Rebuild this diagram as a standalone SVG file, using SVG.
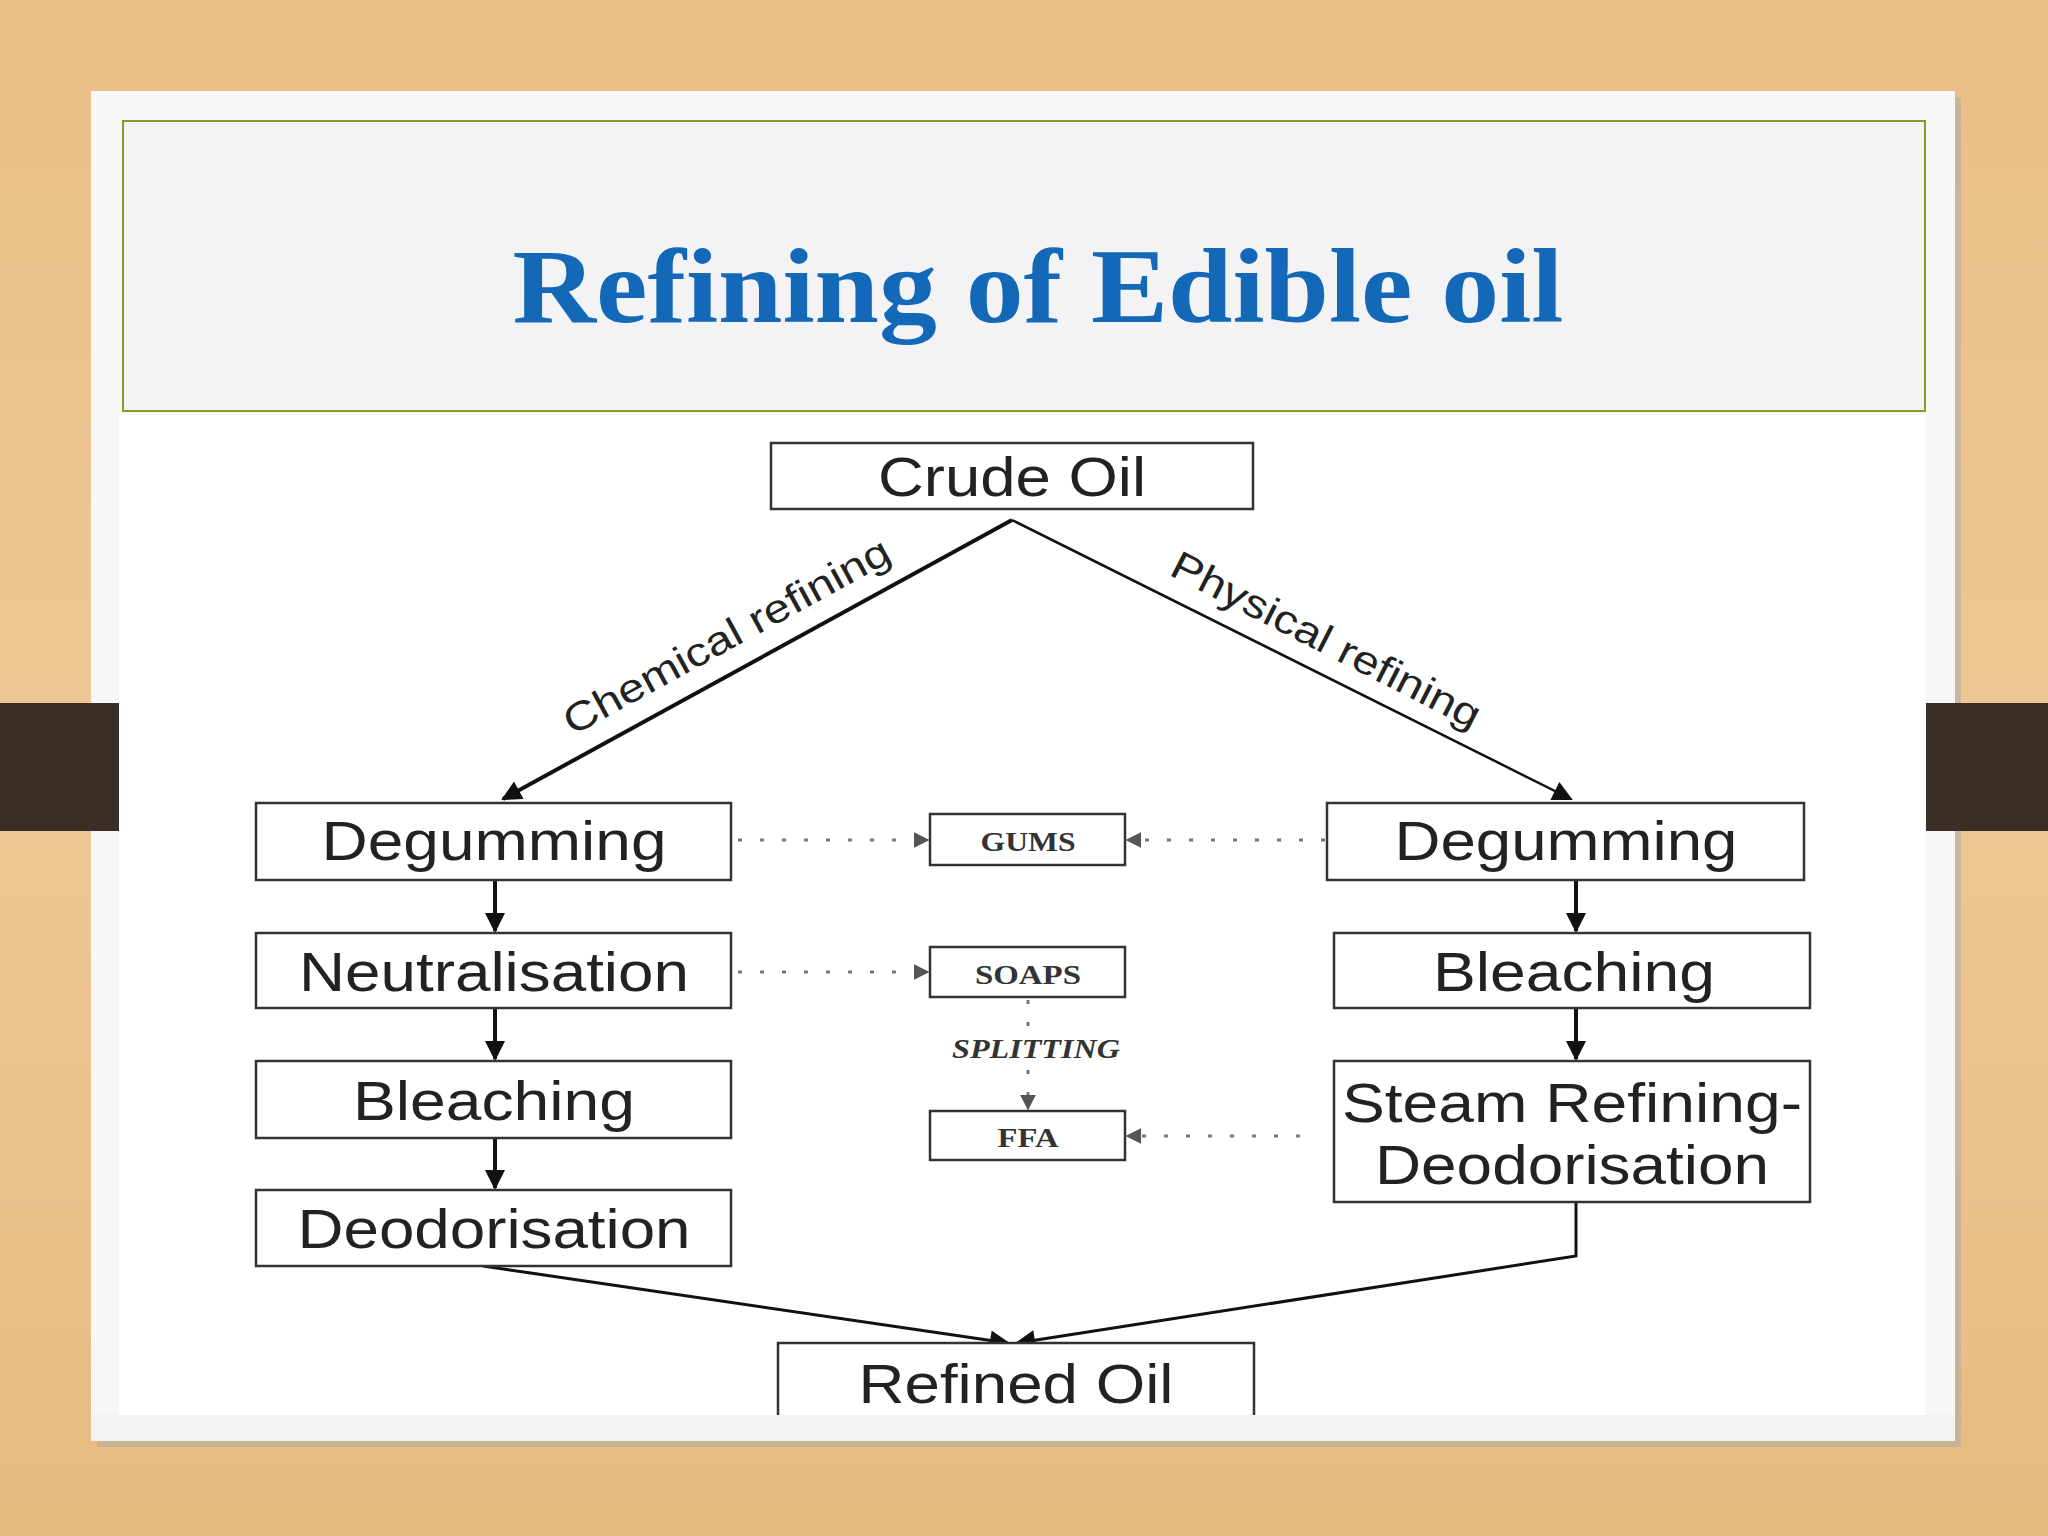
<svg xmlns="http://www.w3.org/2000/svg" width="2048" height="1536" viewBox="0 0 2048 1536">
<defs>
<linearGradient id="wood" x1="0" y1="0" x2="0" y2="1">
<stop offset="0" stop-color="#e8bf85"/><stop offset="0.5" stop-color="#edc896"/><stop offset="1" stop-color="#e6bb80"/>
</linearGradient>
<marker id="ahb" viewBox="0 0 10 10" refX="9" refY="5" markerWidth="22" markerHeight="20" orient="auto" markerUnits="userSpaceOnUse"><path d="M0,0 L10,5 L0,10 z" fill="#111"/></marker>
<marker id="ahs" viewBox="0 0 10 10" refX="9" refY="5" markerWidth="16" markerHeight="16" orient="auto" markerUnits="userSpaceOnUse"><path d="M0,0 L10,5 L0,10 z" fill="#555"/></marker>
</defs>
<style>
.box{fill:#fff;stroke:#333;stroke-width:2.5}
.t{font-family:"Liberation Sans",Arial,sans-serif;font-size:56px;fill:#222;text-anchor:middle}
.s{font-family:"Liberation Serif","Times New Roman",serif;font-weight:bold;font-size:28px;fill:#333;text-anchor:middle}
.lbl{font-family:"Liberation Sans",Arial,sans-serif;font-size:40px;fill:#222;text-anchor:middle}
.ln{stroke:#111;fill:none}
.dot{stroke:#777;stroke-width:3;stroke-dasharray:4 18;fill:none}
</style>
<rect width="2048" height="1536" fill="url(#wood)"/>
<rect x="97" y="97" width="1864" height="1350" fill="#aaa" opacity="0.5"/>
<rect x="91" y="91" width="1864" height="1350" fill="#f7f7f7"/>
<rect x="123" y="121" width="1802" height="290" fill="#f3f3f5" stroke="#8a9a2a" stroke-width="2"/>
<text x="1038" y="322" font-family="Liberation Serif,'Times New Roman',serif" font-weight="bold" font-size="106" fill="#1368b8" text-anchor="middle" textLength="1051" lengthAdjust="spacingAndGlyphs">Refining of  Edible oil</text>
<rect x="119" y="415" width="1806" height="1000" fill="#fff"/>
<rect x="0" y="703" width="119" height="128" fill="#3a2e26"/>
<rect x="1926" y="703" width="122" height="128" fill="#3a2e26"/>
<g id="connectors">
<path class="ln" stroke-width="4" d="M1012,520 L503,799" marker-end="url(#ahb)"/>
<path class="ln" stroke-width="2.5" d="M1012,520 L1571,799" marker-end="url(#ahb)"/>
<path class="ln" stroke-width="4" d="M495,880 V931" marker-end="url(#ahb)"/>
<path class="ln" stroke-width="4" d="M495,1008 V1059" marker-end="url(#ahb)"/>
<path class="ln" stroke-width="4" d="M495,1138 V1188" marker-end="url(#ahb)"/>
<path class="ln" stroke-width="4" d="M1576,880 V931" marker-end="url(#ahb)"/>
<path class="ln" stroke-width="4" d="M1576,1008 V1059" marker-end="url(#ahb)"/>
<path class="ln" stroke-width="3" d="M483,1266 L1008,1343" marker-end="url(#ahb)"/>
<path class="ln" stroke-width="3" d="M1576,1202 V1256 L1017,1343" marker-end="url(#ahb)"/>
<path class="dot" d="M738,840 H928" marker-end="url(#ahs)"/>
<path class="dot" d="M1325,840 H1127" marker-end="url(#ahs)"/>
<path class="dot" d="M738,972 H928" marker-end="url(#ahs)"/>
<path class="dot" d="M1300,1136 H1127" marker-end="url(#ahs)"/>
<path class="dot" d="M1028,1000 V1028 M1028,1070 V1109" marker-end="url(#ahs)"/>
<text class="lbl" transform="translate(733,648) rotate(-28.7)" textLength="366" lengthAdjust="spacingAndGlyphs">Chemical refining</text>
<text class="lbl" transform="translate(1320,652) rotate(27)" textLength="342" lengthAdjust="spacingAndGlyphs">Physical refining</text>
</g>
<g id="crude"><rect class="box" x="771" y="443" width="482" height="66"/><text class="t" x="1012" y="496" textLength="268" lengthAdjust="spacingAndGlyphs">Crude Oil</text></g>
<g id="l-degum"><rect class="box" x="256" y="803" width="475" height="77"/><text class="t" x="494" y="860" textLength="345" lengthAdjust="spacingAndGlyphs">Degumming</text></g>
<g id="l-neut"><rect class="box" x="256" y="933" width="475" height="75"/><text class="t" x="494" y="991" textLength="390" lengthAdjust="spacingAndGlyphs">Neutralisation</text></g>
<g id="l-bleach"><rect class="box" x="256" y="1061" width="475" height="77"/><text class="t" x="494" y="1120" textLength="282" lengthAdjust="spacingAndGlyphs">Bleaching</text></g>
<g id="l-deodor"><rect class="box" x="256" y="1190" width="475" height="76"/><text class="t" x="494" y="1248" textLength="393" lengthAdjust="spacingAndGlyphs">Deodorisation</text></g>
<g id="r-degum"><rect class="box" x="1327" y="803" width="477" height="77"/><text class="t" x="1566" y="860" textLength="343" lengthAdjust="spacingAndGlyphs">Degumming</text></g>
<g id="r-bleach"><rect class="box" x="1334" y="933" width="476" height="75"/><text class="t" x="1574" y="991" textLength="282" lengthAdjust="spacingAndGlyphs">Bleaching</text></g>
<g id="r-steam"><rect class="box" x="1334" y="1061" width="476" height="141"/><text class="t" x="1572" y="1122" textLength="460" lengthAdjust="spacingAndGlyphs">Steam Refining-</text><text class="t" x="1572" y="1184" textLength="394" lengthAdjust="spacingAndGlyphs">Deodorisation</text></g>
<g id="gums"><rect class="box" x="930" y="814" width="195" height="51"/><text class="s" x="1028" y="851" textLength="95" lengthAdjust="spacingAndGlyphs">GUMS</text></g>
<g id="soaps"><rect class="box" x="930" y="947" width="195" height="50"/><text class="s" x="1028" y="984" textLength="106" lengthAdjust="spacingAndGlyphs">SOAPS</text></g>
<g id="splitting"><text class="s" x="1036" y="1058" font-style="italic" textLength="168" lengthAdjust="spacingAndGlyphs">SPLITTING</text></g>
<g id="ffa"><rect class="box" x="930" y="1111" width="195" height="49"/><text class="s" x="1028" y="1147" textLength="61" lengthAdjust="spacingAndGlyphs">FFA</text></g>
<g id="refined"><rect class="box" x="778" y="1343" width="476" height="90"/><rect x="91" y="1415" width="1864" height="26" fill="#f2f2f2"/><text class="t" x="1016" y="1403" textLength="315" lengthAdjust="spacingAndGlyphs">Refined Oil</text></g>
</svg>
